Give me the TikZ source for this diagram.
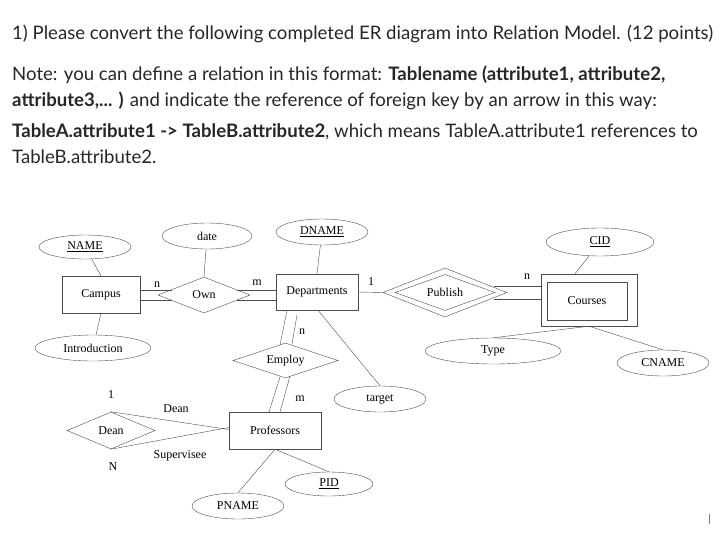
\documentclass[tikz,border=0pt]{standalone}
\usepackage{fontspec}
\setmainfont{Liberation Serif}
\newfontfamily\lato{Lato}
\usetikzlibrary{shapes.geometric}
\begin{document}
\begin{tikzpicture}[x=1pt,y=-1pt,
  hd/.style={anchor=base west,inner sep=0,font=\lato\fontsize{18.6}{22}\selectfont,text=black!85},
  er/.style={font=\fontsize{12}{14}\selectfont},
  attr/.style={er,ellipse,draw=black!70,inner sep=0},
  ent/.style={er,draw=black!70,inner sep=0},
  rel/.style={er,diamond,draw=black!70,inner sep=0,aspect=2.5},
  lab/.style={er,inner sep=0},
  ln/.style={draw=black!70}]
\useasboundingbox (0,0) rectangle (720,552);
\node[hd] (l1) at (12,39) {1) Please convert the following completed ER diagram into Relation Model. (12 points)};
\node[hd] (l2) at (12,80) {Note: you can define a relation in this format: \textbf{Tablename (attribute1, attribute2,}};
\node[hd] (l3) at (12,106) {\textbf{attribute3,... )} and indicate the reference of foreign key by an arrow in this way:};
\node[hd] (l4) at (12,137) {\textbf{TableA.attribute1 -> TableB.attribute2}, which means TableA.attribute1 references to};
\node[hd] (l5) at (12,163) {TableB.attribute2.};
% attributes
\node[attr,minimum width=92,minimum height=24] (name) at (85,247) {\underline{NAME}};
\node[attr,minimum width=90,minimum height=26] (date) at (207,236) {date};
\node[attr,minimum width=92,minimum height=26] (dname) at (322,232) {\underline{DNAME}};
\node[attr,minimum width=108,minimum height=28] (cid) at (600,242) {\underline{CID}};
\node[attr,minimum width=116,minimum height=26] (intro) at (93,348) {Introduction};
\node[attr,minimum width=136,minimum height=26] (type) at (493,351) {Type};
\node[attr,minimum width=92,minimum height=26] (cname) at (663,363) {CNAME};
\node[attr,minimum width=92,minimum height=26] (target) at (380,399) {target};
\node[attr,minimum width=88,minimum height=24] (pid) at (329,484) {\underline{PID}};
\node[attr,minimum width=92,minimum height=26] (pname) at (238,506) {PNAME};
% entities
\node[ent,minimum width=78,minimum height=37] (campus) at (101,294.5) {Campus};
\node[ent,minimum width=82,minimum height=36] (dept) at (317,292) {Departments};
\node[ent,minimum width=96,minimum height=52] (courses) at (589,300) {};
\node[ent,minimum width=80,minimum height=38] (coursesin) at (587,301) {Courses};
\node[ent,minimum width=92,minimum height=37] (prof) at (275,430.5) {Professors};
% relationships
\node[rel,minimum width=92,minimum height=36] (own) at (204,295) {Own};
\node[rel,minimum width=124,minimum height=49] (pub) at (445,292.5) {};
\node[rel,minimum width=100,minimum height=36] (pubin) at (445,292.5) {Publish};
\node[rel,minimum width=105,minimum height=35] (employ) at (285.5,360.5) {Employ};
\node[rel,minimum width=88,minimum height=37] (dean) at (111,430.5) {Dean};
% connectors
\draw[ln] (name) -- (campus.north);
\draw[ln] (intro) -- (campus.south);
\draw[ln] (date) -- (own.north);
\draw[ln] (dname) -- (dept.north);
\draw[ln] (cid) -- ([xshift=-14]courses.north);
\draw[ln] (courses.south) -- (type.north);
\draw[ln] (courses.south) -- (cname.north);
\draw[ln] ([xshift=1]dept.south) -- (target.north);
\coordinate (o1) at (172,290); \coordinate (o2) at (172,300);
\coordinate (o3) at (237,290); \coordinate (o4) at (237,300);
\draw[ln] (campus.east |- o1) -- (o1);
\draw[ln] (campus.east |- o2) -- (o2);
\draw[ln] (o3) -- (dept.west |- o3);
\draw[ln] (o4) -- (dept.west |- o4);
\draw[ln] (dept.east) -- (pub.west);
\coordinate (p1) at (494,286); \coordinate (p2) at (494,299);
\draw[ln] (p1) -- (courses.west |- p1);
\draw[ln] (p2) -- (courses.west |- p2);
\coordinate (d1) at (287,310); \coordinate (d2) at (297,315);
\coordinate (e1) at (280,345); \coordinate (e2) at (292,344);
\draw[ln] (d1) -- (e1); \draw[ln] (d2) -- (e2);
\coordinate (f1) at (280,377); \coordinate (f2) at (290,376);
\coordinate (g1) at (269,412); \coordinate (g2) at (280,412);
\draw[ln] (f1) -- (g1); \draw[ln] (f2) -- (g2);
\draw[ln] (dean.north) -- ([yshift=1]prof.west);
\draw[ln] (dean.south) -- ([yshift=3]prof.west);
\draw[ln] (prof.south) -- (pid.north);
\draw[ln] (prof.south) -- (pname.north);
% labels
\node[lab] (ln1) at (157,285) {n};
\node[lab] (lm1) at (257,283) {m};
\node[lab] (l11) at (371,282) {1};
\node[lab] (ln2) at (527,277) {n};
\node[lab] (ln3) at (302,332) {n};
\node[lab] (lm2) at (300,399) {m};
\node[lab] (ldean) at (176,409) {Dean};
\node[lab] (lsup) at (180,456) {Supervisee};
\node[lab] (lone) at (111,395) {1};
\node[lab] (lN) at (113,467) {N};
\draw[black!50] (709,514) -- (709,524);
\end{tikzpicture}
\end{document}
